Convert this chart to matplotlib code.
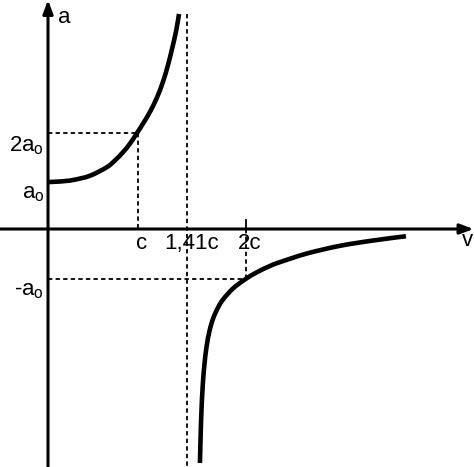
#!/usr/bin/env python3

import matplotlib
matplotlib.use("Agg")
import matplotlib.pyplot as plt
from matplotlib.path import Path
from matplotlib.patches import PathPatch

# acceleration a (in units of a0) against speed v (in units of c)
v_low = [0.0, 0.121, 0.253, 0.425, 0.597, 0.678, 0.759, 0.830, 0.901, 0.972,
         1.032, 1.103, 1.164, 1.215, 1.255, 1.296, 1.326]
a_low = [0.979, 0.990, 1.021, 1.11, 1.29, 1.43, 1.60, 1.78, 2.0, 2.23,
         2.44, 2.74, 3.07, 3.42, 3.75, 4.12, 4.48]

v_high = [1.538, 1.545, 1.553, 1.565, 1.582, 1.605, 1.635, 1.672, 1.720, 1.771,
          1.872, 1.994, 2.115, 2.247, 2.348, 2.621, 2.955, 3.289, 3.623]
a_high = [-4.875, -4.30, -3.80, -3.30, -2.85, -2.45, -2.12, -1.86, -1.64, -1.47,
          -1.24, -1.05, -0.90, -0.77, -0.69, -0.51, -0.35, -0.24, -0.15]

v_ticks = [0.91, 1.41, 2.0]
v_labels = ["c", "1,41c", "2c"]
a_ticks = [0.98, 2.0, -1.04]
a_labels = [r"a$_\mathrm{o}$", r"2a$_\mathrm{o}$", r"-a$_\mathrm{o}$"]

plt.rcParams["font.family"] = ["Liberation Sans", "DejaVu Sans"]
plt.rcParams["mathtext.fontset"] = "custom"
plt.rcParams["mathtext.rm"] = "Liberation Sans"
plt.rcParams["mathtext.it"] = "Liberation Sans:italic"

XMIN, XMAX = -0.486, 4.312
YMIN, YMAX = -4.958, 4.771


def smooth_path(xs, ys):
  # Catmull-Rom through the read points, drawn as cubic Bezier segments
  pts = list(zip(xs, ys))
  verts = [pts[0]]
  codes = [Path.MOVETO]
  for i in range(len(pts) - 1):
    p0 = pts[max(i - 1, 0)]
    p1 = pts[i]
    p2 = pts[i + 1]
    p3 = pts[min(i + 2, len(pts) - 1)]
    c1 = (p1[0] + (p2[0] - p0[0]) / 6, p1[1] + (p2[1] - p0[1]) / 6)
    c2 = (p2[0] - (p3[0] - p1[0]) / 6, p2[1] - (p3[1] - p1[1]) / 6)
    verts += [c1, c2, p2]
    codes += [Path.CURVE4] * 3
  return Path(verts, codes)


fig = plt.figure(figsize=(4.74, 4.67), dpi=100)
ax = fig.add_axes([0, 0, 1, 1])
ax.set_xlim(XMIN, XMAX)
ax.set_ylim(YMIN, YMAX)
ax.axis("off")

dash = (0, (2.4, 1.8))
dlw = 1.3

# axes with arrows
arrow = dict(arrowstyle="-|>,head_length=0.8,head_width=0.3", lw=2.2,
             color="black", shrinkA=0, shrinkB=0, mutation_scale=10)
ax.annotate("", xy=(0, YMAX), xytext=(0, YMIN), arrowprops=arrow)
ax.annotate("", xy=(XMAX - 0.005, 0), xytext=(XMIN, 0), arrowprops=arrow)
ax.text(0.1, YMAX - 0.36, "a", fontsize=16, ha="left", va="center")
ax.text(XMAX - 0.01, -0.24, "v", fontsize=16, ha="right", va="center")

# guide lines
ax.plot([0, v_ticks[0]], [a_ticks[1], a_ticks[1]], "k", ls=dash, lw=dlw)
ax.plot([v_ticks[0], v_ticks[0]], [a_ticks[1], 0], "k", ls=dash, lw=dlw)
ax.plot([v_ticks[1], v_ticks[1]], [a_low[-1], YMIN], "k", ls=dash, lw=dlw)
ax.plot([0, v_ticks[2]], [a_ticks[2], a_ticks[2]], "k", ls=dash, lw=dlw)
ax.plot([v_ticks[2], v_ticks[2]], [0, a_ticks[2]], "k", ls=dash, lw=dlw)
ax.plot([v_ticks[2], v_ticks[2]], [0, 0.18], "k", lw=dlw)

# curve
for xs, ys in [(v_low, a_low), (v_high, a_high)]:
  ax.add_patch(PathPatch(smooth_path(xs, ys), facecolor="none", edgecolor="black",
                         lw=3.3, capstyle="butt", joinstyle="round"))

for v, lab in zip(v_ticks, v_labels):
  ax.text(v + 0.04, -0.08, lab, fontsize=16, ha="center", va="top")

for a, lab in zip(a_ticks, a_labels):
  ax.text(-0.04, a - 0.02, lab, fontsize=16, ha="right", va="top")

fig.savefig("out.png", dpi=100)
